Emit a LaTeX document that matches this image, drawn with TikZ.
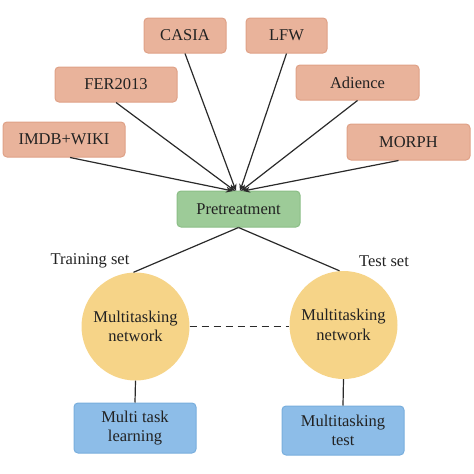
\documentclass[tikz,border=0pt]{standalone}
\usepackage{fontspec}
\setmainfont{Liberation Serif}
\usetikzlibrary{arrows.meta,calc}
\definecolor{orfill}{HTML}{E9B39B}
\definecolor{ordraw}{HTML}{DFA187}
\definecolor{grfill}{HTML}{9DCB98}
\definecolor{grdraw}{HTML}{8BBE86}
\definecolor{blfill}{HTML}{8DBDE8}
\definecolor{bldraw}{HTML}{78AEDD}
\definecolor{ylfill}{HTML}{F6D488}
\definecolor{txt}{HTML}{222222}
\definecolor{ln}{HTML}{2A2A2A}
\begin{document}
\begin{tikzpicture}[x=1pt,y=-1pt,
  every node/.style={font=\fontsize{16.5}{19.5}\selectfont, text=txt, inner sep=0pt, align=center},
  box/.style={rectangle, rounded corners=4pt, line width=1pt},
  orbox/.style={box, fill=orfill, draw=ordraw},
  grbox/.style={box, fill=grfill, draw=grdraw},
  blbox/.style={box, fill=blfill, draw=bldraw},
  net/.style={circle, fill=ylfill, draw=none, minimum size=108pt},
  link/.style={draw=ln, line width=1.2pt},
  tolink/.style={link, -{Stealth[length=7pt,width=6pt]}},
]
\useasboundingbox (0,0) rectangle (474,474);
\node[orbox, minimum width=82pt, minimum height=35pt] (casia) at (185,35.5) {CASIA};
\node[orbox, minimum width=81pt, minimum height=35pt] (lfw) at (286.5,35.5) {LFW};
\node[orbox, minimum width=122pt, minimum height=35pt] (fer) at (116,84.5) {FER2013};
\node[orbox, minimum width=123pt, minimum height=35pt] (adi) at (357.5,82.5) {Adience};
\node[orbox, minimum width=122pt, minimum height=35pt] (imdb) at (64,139.5) {IMDB+WIKI};
\node[orbox, minimum width=123pt, minimum height=36pt] (morph) at (408.5,142) {MORPH};
\node[grbox, minimum width=123pt, minimum height=36pt] (pre) at (238.5,209) {Pretreatment};
\coordinate (hub) at (238,191);

\draw[tolink] (casia.south) -- ($(hub)+(-2,0)$);
\draw[tolink] (lfw.south) -- ($(hub)+(2,0)$);
\draw[tolink] (fer.south) -- ($(hub)+(-3,0)$);
\draw[tolink] (adi.south) -- ($(hub)+(3,0)$);
\draw[tolink] ($(imdb.south)+(6,0)$) -- ($(hub)+(-5,0)$);
\draw[tolink] ($(morph.south)+(-10,0)$) -- ($(hub)+(5,0)$);

\node[net] (c1) at (135.5,326.5) {Multitasking\\network};
\node[net] (c2) at (343.5,325) {Multitasking\\network};
\node (trl) at (90,261) {Training set};
\node (tsl) at (384,261) {Test set};

\draw[link] (pre.south) -- ($(c1.north)+(-2,0)$);
\draw[link] (pre.south) -- ($(c2.north)+(-4,0)$);
\draw[link, dash pattern=on 7pt off 5pt] (c1.east) -- (c1.east -| c2.west);

\node[blbox, minimum width=122pt, minimum height=50pt] (mtl) at (135,428) {Multi task\\learning};
\node[blbox, minimum width=122pt, minimum height=49pt] (mtt) at (343,430.5) {Multitasking\\test};
\draw[link] (c1.south) -- (mtl.north);
\draw[link] (c2.south) -- (mtt.north);
\end{tikzpicture}
\end{document}
